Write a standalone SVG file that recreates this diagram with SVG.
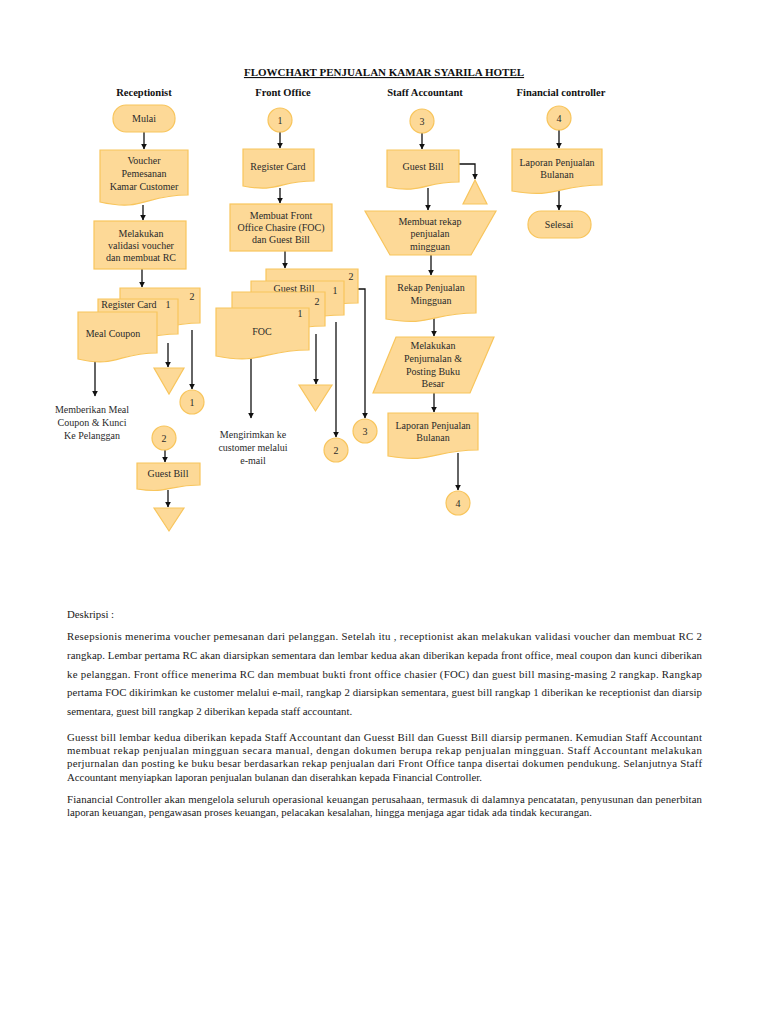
<svg xmlns="http://www.w3.org/2000/svg" width="768" height="1024" viewBox="0 0 768 1024">
<style>
.s{fill:#FDD997;stroke:#F8C55C;stroke-width:1.2}
.t{font-family:"Liberation Serif","Times New Roman",serif;font-size:10px;fill:#2a2a2a;text-anchor:middle}
.h{font-family:"Liberation Serif","Times New Roman",serif;font-size:10.5px;font-weight:bold;fill:#111;text-anchor:middle}
.p{font-family:"Liberation Serif","Times New Roman",serif;font-size:10.8px;fill:#1a1a1a}
.c{fill:none;stroke:#111;stroke-width:1.3}
</style>
<defs>
<marker id="ar" viewBox="0 0 10 10" refX="9" refY="5" markerWidth="6" markerHeight="6" markerUnits="userSpaceOnUse" orient="auto"><path d="M0,0 L10,5 L0,10 Z" fill="#111"/></marker>
</defs>
<rect width="768" height="1024" fill="#fff"/>
<text x="384" y="76" class="h" text-decoration="underline" style="font-size:11px">FLOWCHART PENJUALAN KAMAR SYARILA HOTEL</text>
<text x="144" y="96" class="h">Receptionist</text>
<text x="283" y="96" class="h">Front Office</text>
<text x="425" y="96" class="h">Staff Accountant</text>
<text x="561" y="96" class="h">Financial controller</text>

<g id="connectors" class="c">
<path d="M144,131 V149" marker-end="url(#ar)"/>
<path d="M143,205 V220" marker-end="url(#ar)"/>
<path d="M142,269 V287" marker-end="url(#ar)"/>
<path d="M95,360 V396" marker-end="url(#ar)"/>
<path d="M168,343 V367" marker-end="url(#ar)"/>
<path d="M192,330 V389" marker-end="url(#ar)"/>
<path d="M165,450 V462" marker-end="url(#ar)"/>
<path d="M168,490 V507" marker-end="url(#ar)"/>
<path d="M280,132 V148" marker-end="url(#ar)"/>
<path d="M280,188 V203" marker-end="url(#ar)"/>
<path d="M285,251 V268" marker-end="url(#ar)"/>
<path d="M251,358 V418" marker-end="url(#ar)"/>
<path d="M316,334 V384" marker-end="url(#ar)"/>
<path d="M336,322 V437" marker-end="url(#ar)"/>
<path d="M358,289 H365 V418" marker-end="url(#ar)"/>
<path d="M422,133 V149" marker-end="url(#ar)"/>
<path d="M459,164 H475 V179" marker-end="url(#ar)"/>
<path d="M428,188 V210" marker-end="url(#ar)"/>
<path d="M431,255 V275" marker-end="url(#ar)"/>
<path d="M434,318 V336" marker-end="url(#ar)"/>
<path d="M434,393 V412" marker-end="url(#ar)"/>
<path d="M458,453 V490" marker-end="url(#ar)"/>
<path d="M559,130 V148" marker-end="url(#ar)"/>
<path d="M559,189 V210" marker-end="url(#ar)"/>
</g>

<g id="mulai"><rect class="s" x="113" y="105" width="62" height="27" rx="13"/><text class="t" x="144" y="122">Mulai</text></g>
<g id="voucher"><path class="s" d="M100,150 H188 V195 C144,195 144,212 100,202 Z"/><text class="t" x="144" y="163.5">Voucher</text><text class="t" x="144" y="176.5">Pemesanan</text><text class="t" x="144" y="189.5">Kamar Customer</text></g>
<g id="validasi"><rect class="s" x="94" y="221" width="92" height="48"/><text class="t" x="141" y="236.5">Melakukan</text><text class="t" x="141" y="248.5">validasi voucher</text><text class="t" x="141" y="260.5">dan membuat RC</text></g>
<g id="rc2"><path class="s" d="M120,288 H200 V323 C160,323 160,336 120,329 Z"/><text class="t" x="192" y="299.5">2</text></g>
<g id="rc1"><path class="s" d="M98,299 H178 V334 C138,334 138,347 98,340 Z"/><text class="t" x="129" y="307.5">Register Card</text><text class="t" x="168" y="307.5">1</text></g>
<g id="meal"><path class="s" d="M78,312 H157 V353 C117.5,353 117.5,368 78,359 Z"/><text class="t" x="113" y="336.5">Meal Coupon</text></g>
<g id="memberikan"><text class="t" x="92" y="412.5">Memberikan Meal</text><text class="t" x="92" y="425.5">Coupon &amp; Kunci</text><text class="t" x="92" y="438.5">Ke Pelanggan</text></g>
<g id="rtri1"><polygon class="s" points="154,368 184,368 169,394"/></g>
<g id="rc-c1"><circle class="s" cx="192" cy="402" r="12"/><text class="t" x="192" y="405.5">1</text></g>
<g id="rc-c2"><circle class="s" cx="164" cy="438" r="12"/><text class="t" x="164" y="441.5">2</text></g>
<g id="rguest"><path class="s" d="M137,463 H200 V485 C168.5,485 168.5,494 137,489 Z"/><text class="t" x="168" y="476.5">Guest Bill</text></g>
<g id="rtri2"><polygon class="s" points="154,508 184,508 169,531"/></g>

<g id="fo-c1"><circle class="s" cx="280" cy="120" r="12"/><text class="t" x="280" y="123.5">1</text></g>
<g id="foreg"><path class="s" d="M243,149 H314 V181 C278.5,181 278.5,193 243,186 Z"/><text class="t" x="278" y="169.5">Register Card</text></g>
<g id="fofoc"><rect class="s" x="230" y="204" width="102" height="47"/><text class="t" x="281" y="218.5">Membuat Front</text><text class="t" x="281" y="230.5">Office Chasire (FOC)</text><text class="t" x="281" y="242.5">dan Guest Bill</text></g>
<g id="fogb2"><path class="s" d="M266,269 H358 V303 C312,303 312,315 266,308 Z"/><text class="t" x="351" y="280">2</text></g>
<g id="fogb1"><path class="s" d="M251,281 H344 V315 C297.5,315 297.5,327 251,320 Z"/><text class="t" x="294" y="291.5">Guest Bill</text><text class="t" x="335" y="293.5">1</text></g>
<g id="foc2"><path class="s" d="M232,292 H325 V326 C278.5,326 278.5,339 232,332 Z"/><text class="t" x="317" y="304.5">2</text></g>
<g id="foc1"><path class="s" d="M216,308 H309 V350 C262.5,350 262.5,365 216,356 Z"/><text class="t" x="300" y="316.5">1</text><text class="t" x="262" y="334.5">FOC</text></g>
<g id="mengirim"><text class="t" x="253" y="437.5">Mengirimkan ke</text><text class="t" x="253" y="450.5">customer melalui</text><text class="t" x="253" y="463.5">e-mail</text></g>
<g id="fotri"><polygon class="s" points="299,385 332,385 315.5,411"/></g>
<g id="fo-c2"><circle class="s" cx="336" cy="450" r="12"/><text class="t" x="336" y="453.5">2</text></g>
<g id="fo-c3"><circle class="s" cx="365" cy="431" r="12"/><text class="t" x="365" y="434.5">3</text></g>

<g id="sa-c3"><circle class="s" cx="422" cy="121" r="12"/><text class="t" x="422" y="124.5">3</text></g>
<g id="saguest"><path class="s" d="M387,150 H459 V182 C423,182 423,194 387,187 Z"/><text class="t" x="423" y="169.5">Guest Bill</text></g>
<g id="satri"><polygon class="s" points="475,180 487,204 463,204"/></g>
<g id="sarekap"><polygon class="s" points="365,211 496,211 471,255 390,255"/><text class="t" x="430" y="224.5">Membuat rekap</text><text class="t" x="430" y="236.5">penjualan</text><text class="t" x="430" y="249.5">mingguan</text></g>
<g id="sarekapdoc"><path class="s" d="M386,276 H476 V313 C431,313 431,327 386,319 Z"/><text class="t" x="431" y="290.5">Rekap Penjualan</text><text class="t" x="431" y="303.5">Mingguan</text></g>
<g id="sajurnal"><polygon class="s" points="396,337 494,337 470,393 373,393"/><text class="t" x="433" y="348.5">Melakukan</text><text class="t" x="433" y="361.5">Penjurnalan &amp;</text><text class="t" x="433" y="374.5">Posting Buku</text><text class="t" x="433" y="386.5">Besar</text></g>
<g id="salaporan"><path class="s" d="M388,413 H478 V450 C433,450 433,464 388,456 Z"/><text class="t" x="433" y="428.5">Laporan Penjualan</text><text class="t" x="433" y="440.5">Bulanan</text></g>
<g id="sa-c4"><circle class="s" cx="458" cy="503" r="12"/><text class="t" x="458" y="506.5">4</text></g>

<g id="fc-c4"><circle class="s" cx="559" cy="118" r="12"/><text class="t" x="559" y="121.5">4</text></g>
<g id="fclaporan"><path class="s" d="M512,149 H602 V185 C557,185 557,199 512,191 Z"/><text class="t" x="557" y="165.5">Laporan Penjualan</text><text class="t" x="557" y="177.5">Bulanan</text></g>
<g id="selesai"><rect class="s" x="528" y="211" width="63" height="27" rx="13"/><text class="t" x="559" y="228">Selesai</text></g>

<g id="deskripsi">
<text class="p" x="67" y="618">Deskripsi :</text>
<text class="p" x="67" y="640" textLength="635" lengthAdjust="spacing">Resepsionis menerima voucher pemesanan dari pelanggan. Setelah itu , receptionist akan melakukan validasi voucher dan membuat RC 2</text>
<text class="p" x="67" y="659" textLength="635" lengthAdjust="spacing">rangkap. Lembar pertama RC akan diarsipkan sementara dan lembar kedua akan diberikan kepada front office, meal coupon dan kunci diberikan</text>
<text class="p" x="67" y="678" textLength="635" lengthAdjust="spacing">ke pelanggan. Front office menerima RC dan membuat bukti front office chasier (FOC) dan guest bill masing-masing 2 rangkap. Rangkap</text>
<text class="p" x="67" y="696" textLength="635" lengthAdjust="spacing">pertama FOC dikirimkan ke customer melalui e-mail, rangkap 2 diarsipkan sementara, guest bill rangkap 1 diberikan ke receptionist dan diarsip</text>
<text class="p" x="67" y="715">sementara, guest bill rangkap 2 diberikan kepada staff accountant.</text>
<text class="p" x="67" y="741" textLength="635" lengthAdjust="spacing">Guesst bill lembar kedua diberikan kepada Staff Accountant dan Guesst Bill dan Guesst Bill diarsip permanen. Kemudian Staff Accountant</text>
<text class="p" x="67" y="754" textLength="635" lengthAdjust="spacing">membuat rekap penjualan mingguan secara manual, dengan dokumen berupa rekap penjualan mingguan. Staff Accountant melakukan</text>
<text class="p" x="67" y="767" textLength="635" lengthAdjust="spacing">perjurnalan dan posting ke buku besar berdasarkan rekap penjualan dari Front Office tanpa disertai dokumen pendukung. Selanjutnya Staff</text>
<text class="p" x="67" y="781">Accountant menyiapkan laporan penjualan bulanan dan diserahkan kepada Financial Controller.</text>
<text class="p" x="67" y="803" textLength="635" lengthAdjust="spacing">Fianancial Controller akan mengelola seluruh operasional keuangan perusahaan, termasuk di dalamnya pencatatan, penyusunan dan penerbitan</text>
<text class="p" x="67" y="816">laporan keuangan, pengawasan proses keuangan, pelacakan kesalahan, hingga menjaga agar tidak ada tindak kecurangan.</text>
</g>
</svg>
